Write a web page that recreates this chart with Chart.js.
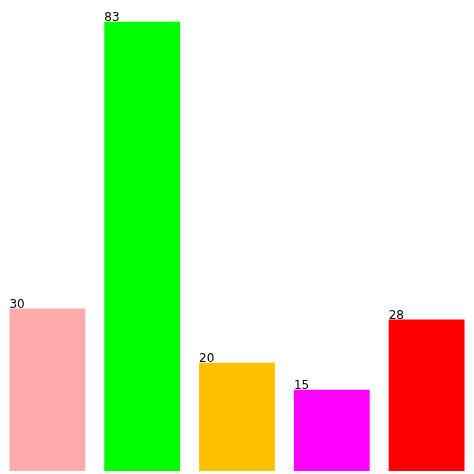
<!DOCTYPE html>
<html>
<head>
<meta charset="utf-8">
<script src="https://cdn.jsdelivr.net/npm/chart.js@4"></script>
<style>
  html, body { margin: 0; padding: 0; background: #fff; }
  #wrap { width: 474px; height: 474px; }
</style>
</head>
<body>
<div id="wrap"><canvas id="chart"></canvas></div>
<script>
const categories = ["A", "B", "C", "D", "E"];
const values = [30, 83, 20, 15, 28];
const barColors = ["#ffaaaa", "#00ff00", "#ffc000", "#ff00ff", "#ff0000"];

// Draw value at top-left corner of each bar
const valueLabels = {
  id: "valueLabels",
  afterDatasetsDraw(chart) {
    const ctx = chart.ctx;
    ctx.save();
    ctx.font = "12px 'DejaVu Sans', sans-serif";
    ctx.fillStyle = "#000";
    ctx.textBaseline = "bottom";
    ctx.textAlign = "left";
    chart.getDatasetMeta(0).data.forEach((bar, i) => {
      ctx.fillText(String(values[i]), bar.x - bar.width / 2, bar.y + 2);
    });
    ctx.restore();
  }
};

new Chart(document.getElementById("chart"), {
  type: "bar",
  data: {
    labels: categories,
    datasets: [{ data: values, backgroundColor: barColors }]
  },
  options: {
    responsive: true,
    maintainAspectRatio: false,
    animation: false,
    layout: { padding: { bottom: 3 } },
    datasets: { bar: { barPercentage: 0.8, categoryPercentage: 1 } },
    plugins: { legend: { display: false }, tooltip: { enabled: false } },
    scales: {
      x: { display: false },
      y: { display: false, min: 0, max: 87 }
    }
  },
  plugins: [valueLabels]
});
</script>
</body>
</html>
